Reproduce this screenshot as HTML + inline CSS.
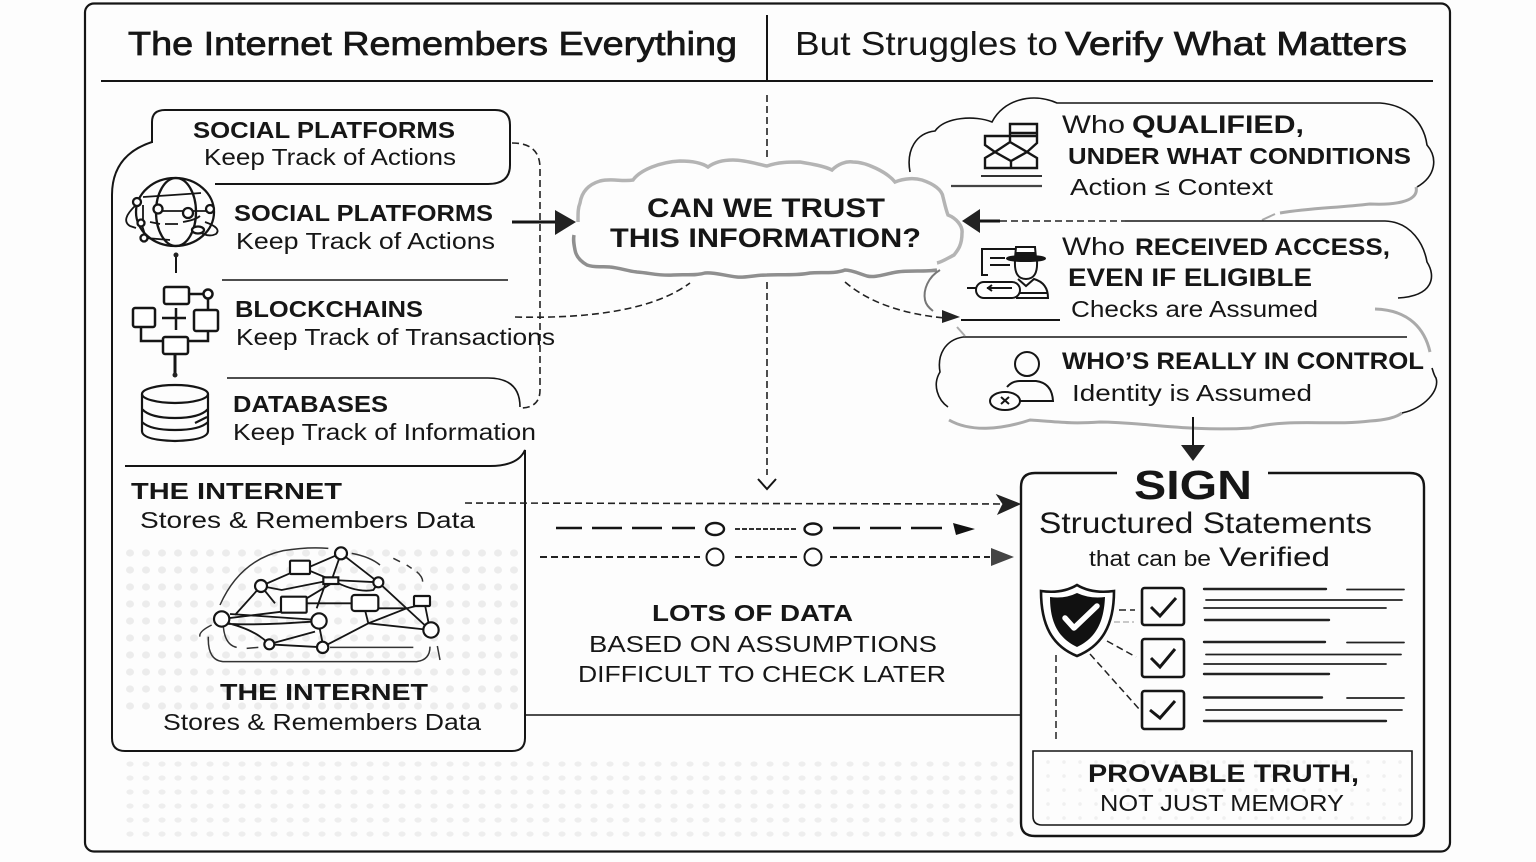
<!DOCTYPE html>
<html><head><meta charset="utf-8"><style>
html,body{margin:0;padding:0;background:#fdfdfd}
svg{display:block}
text{font-family:"Liberation Sans",sans-serif;fill:#161616;font-size:23px}
.b{font-weight:700}
.t{stroke:#161616;stroke-width:.75px}
.n{fill:#fff;stroke:#151515;stroke-width:2.2}
.l{fill:none;stroke:#151515;stroke-width:2}
.s{fill:none;stroke:#151515;stroke-width:1.6}
.d{fill:none;stroke:#222;stroke-width:1.6;stroke-dasharray:7 4}
.g{fill:none;stroke:#aaa;stroke-width:3}
</style></head><body>
<svg xmlns="http://www.w3.org/2000/svg" width="1536" height="862" viewBox="0 0 1536 862">
<defs>
<pattern id="p1" x="122" y="545" width="16" height="17" patternUnits="userSpaceOnUse"><ellipse cx="8" cy="8" rx="4" ry="3.6" fill="#ececec"/></pattern>
<pattern id="p2" x="122" y="757" width="16" height="14" patternUnits="userSpaceOnUse"><ellipse cx="8" cy="7" rx="3.6" ry="2.6" fill="#eeeeee"/></pattern>
<pattern id="p3" x="1040" y="755" width="16" height="14" patternUnits="userSpaceOnUse"><circle cx="8" cy="7" r="1.8" fill="#f0f0f0"/></pattern>
</defs>
<rect width="1536" height="862" fill="#fdfdfd"/>
<rect x="122" y="545" width="398" height="170" fill="url(#p1)"/>
<rect x="122" y="757" width="898" height="86" fill="url(#p2)"/>
<rect x="1040" y="755" width="365" height="66" fill="url(#p3)"/>

<!-- frame -->
<rect x="85" y="3.5" width="1365" height="848" rx="9" fill="none" stroke="#151515" stroke-width="2.2"/>
<path class="l" d="M101 81H1433M767 15V81"/>
<text x="128" y="55" class="t" textLength="609" lengthAdjust="spacingAndGlyphs" style="font-size:33px">The Internet Remembers Everything</text>
<text x="795" y="55" textLength="263" lengthAdjust="spacingAndGlyphs" style="font-size:33px">But Struggles to</text>
<text x="1065" y="55" class="t" textLength="342" lengthAdjust="spacingAndGlyphs" style="font-size:33px">Verify What Matters</text>

<!-- left container -->
<path class="l" d="M152 143V122Q152 110 165 110H495Q510 110 510 125V165Q510 184 488 184H215"/>
<path class="l" d="M152 142Q112 155 112 195V738Q112 751 125 751H512Q525 751 525 738V450Q518 466 490 466H125"/>
<path class="s" d="M525 715H1021"/>
<path class="s" d="M222 280H508"/>
<path class="s" d="M227 378H488Q520 378 520 407"/>
<path class="d" d="M512 143Q540 143 540 168V390Q540 408 520 408"/>
<path class="l" style="stroke-width:3" d="M512 222H556"/><path d="M555 210L576 222L555 235Z" fill="#222"/>
<path class="d" d="M515 317Q640 320 690 283"/>
<path class="d" d="M767 95V160M767 282V475"/>
<path class="l" d="M758 479L767 489L776 479"/>
<path class="d" d="M845 282Q880 312 945 318"/><path d="M942 310L960 317L942 323Z" fill="#222"/>

<text x="193" y="138" class="b" textLength="262" lengthAdjust="spacingAndGlyphs">SOCIAL PLATFORMS</text>
<text x="204" y="165" textLength="252" lengthAdjust="spacingAndGlyphs">Keep Track of Actions</text>
<text x="234" y="221" class="b" textLength="259" lengthAdjust="spacingAndGlyphs">SOCIAL PLATFORMS</text>
<text x="236" y="249" textLength="259" lengthAdjust="spacingAndGlyphs">Keep Track of Actions</text>
<text x="235" y="317" class="b" textLength="188" lengthAdjust="spacingAndGlyphs">BLOCKCHAINS</text>
<text x="236" y="345" textLength="319" lengthAdjust="spacingAndGlyphs">Keep Track of Transactions</text>
<text x="233" y="412" class="b" textLength="155" lengthAdjust="spacingAndGlyphs">DATABASES</text>
<text x="233" y="440" textLength="303" lengthAdjust="spacingAndGlyphs">Keep Track of Information</text>
<text x="131" y="499" class="b" textLength="211" lengthAdjust="spacingAndGlyphs">THE INTERNET</text>
<text x="140" y="528" textLength="335" lengthAdjust="spacingAndGlyphs">Stores &amp; Remembers Data</text>
<text x="220" y="700" class="b" textLength="208" lengthAdjust="spacingAndGlyphs">THE INTERNET</text>
<text x="163" y="730" textLength="318" lengthAdjust="spacingAndGlyphs">Stores &amp; Remembers Data</text>

<!-- globe -->
<g fill="none" stroke="#151515" stroke-width="2.3">
<ellipse cx="175" cy="212" rx="39" ry="34"/>
<ellipse cx="176" cy="212" rx="20" ry="34"/>
<path stroke-width="1.8" d="M143 197Q174 195 201 193M162 211H208M165 224H178M183 222Q195 220 200 216M150 222L160 224M136 205Q120 220 130 226L136 228M142 225L146 238L170 240M205 222Q222 228 216 234Q208 238 198 231M143 205V222"/>
<g fill="#fff"><circle cx="137" cy="202" r="4"/><circle cx="158" cy="209" r="4.5"/><circle cx="188" cy="213" r="5"/><circle cx="210" cy="209" r="4"/><circle cx="141" cy="223" r="3.5"/><ellipse cx="198" cy="230" rx="6" ry="3.5"/><circle cx="144" cy="238" r="3.5"/></g>
</g>
<path class="l" d="M176 256V273"/><circle cx="176" cy="255" r="2.5" fill="#222"/>

<!-- blockchain -->
<g fill="#fff" stroke="#151515" stroke-width="2.5">
<path fill="none" d="M141 327V341H163M188 341H208V331M208 310V299M189 294H204M162 318H186M176 308V330"/>
<rect x="164" y="287" width="25" height="17" rx="2"/><circle cx="208" cy="294" r="4.5"/>
<rect x="133" y="308" width="22" height="19" rx="2"/><rect x="194" y="310" width="24" height="21" rx="2"/><rect x="163" y="337" width="25" height="17" rx="2"/>
</g>
<path class="l" style="stroke-width:3" d="M175 354V374"/><circle cx="175" cy="375" r="2.5" fill="#222"/>

<!-- database -->
<g fill="none" stroke="#151515" stroke-width="2.2">
<ellipse cx="175" cy="394" rx="33" ry="9"/>
<path d="M142 394V431Q142 440 175 441Q208 440 208 431V394M142 409Q150 418 175 418Q200 418 208 409M142 422Q150 430 175 430Q200 430 208 422M195 423L207 417"/>
</g>

<!-- network, zoomed coordinates -->
<g transform="translate(200 540) scale(.33333)">
<g fill="none" stroke="#333" stroke-width="4.5">
<path d="M25 290Q22 365 75 365H650Q690 360 690 320M60 195Q120 60 250 32Q320 20 385 25M455 40Q510 50 540 75M580 55L600 65M620 75L635 85M650 95Q668 110 668 125M720 360L712 318M35 255Q-5 275 0 290M70 260Q75 315 110 322M140 325L175 322M390 322H640"/>
</g>
<g fill="none" stroke="#151515" stroke-width="5.5">
<path d="M423 40L330 80M423 40L395 120M423 40L535 127L690 270M300 80L395 120M183 138L270 100M183 138L245 150L395 120M183 138L225 190M183 138L105 225M395 120L535 127M395 120Q470 160 520 150L535 127M395 130L320 175M375 135L350 205M65 237L245 215M320 190L455 190M90 222L355 240M535 205L620 205L660 195M675 195L690 270M620 205L505 250M495 210L505 250L690 270M505 250L380 315M65 250Q150 258 335 245M65 245Q160 265 205 310M205 313L345 275M355 245L370 320M205 313L370 322"/>
</g>
<g fill="#fff" stroke="#151515" stroke-width="6.5">
<circle cx="423" cy="40" r="18"/><rect x="270" y="62" width="60" height="40" rx="3"/><rect x="370" y="112" width="45" height="20"/><circle cx="535" cy="127" r="15"/><circle cx="183" cy="138" r="18"/>
<rect x="243" y="170" width="77" height="48" rx="3"/><rect x="455" y="165" width="80" height="48" rx="9"/><rect x="642" y="168" width="48" height="30" rx="3"/>
<circle cx="65" cy="237" r="23"/><circle cx="357" cy="243" r="23"/><circle cx="693" cy="270" r="23"/><circle cx="208" cy="313" r="15"/><circle cx="368" cy="322" r="17"/>
</g>
</g>

<!-- center cloud -->
<path fill="#fdfdfd" stroke="#b4b4b4" stroke-width="3.5" d="M578 222C578 212 578 208 580 203C582 190 590 184 600 181C612 178 622 182 633 180C640 170 660 162 680 161C692 161 702 163 708 167C716 161 725 160 733 160C745 160 757 164 767 166C778 162 790 162 800 162C812 164 824 166 832 170C838 164 846 161 853 162C866 162 887 172 895 182C905 178 915 178 922 180C934 184 942 190 943 197C945 205 946 210 948 215C956 218 963 226 962 233C962 245 958 250 954 255C948 258 942 262 937 263"/>
<path fill="none" stroke="#8f8f8f" stroke-width="3.5" d="M937 270C925 272 910 270 897 272C885 274 875 278 867 276C860 274 852 270 845 270C835 274 820 272 810 273C795 276 780 274 767 275C755 275 745 278 737 277C725 276 715 272 705 273C695 276 685 274 673 275C660 276 650 273 637 272C628 271 620 268 610 267C602 266 595 268 587 265C580 261 576 256 575 250C574 245 573 240 574 235"/>
<text x="647" y="217" class="b" textLength="238" lengthAdjust="spacingAndGlyphs" style="font-size:27px">CAN WE TRUST</text>
<text x="610" y="247" class="b" textLength="311" lengthAdjust="spacingAndGlyphs" style="font-size:27px">THIS INFORMATION?</text>

<!-- right clouds -->
<path class="s" d="M910 172C906 150 916 133 935 131C945 117 975 115 992 122C1003 100 1032 92 1057 103H1380C1408 105 1424 123 1427 145C1438 158 1436 176 1417 187"/>
<path class="g" d="M1416 187C1420 203 1390 205 1370 204C1335 208 1310 208 1280 213"/>
<path class="g" style="stroke-width:2" d="M1262 220L1275 214"/>
<path class="s" d="M1125 221H1385C1412 222 1424 245 1427 262C1436 276 1434 296 1398 298"/>
<path fill="none" stroke="#777" stroke-width="2" d="M940 270C928 277 923 290 925 300C926 305 929 308 933 311"/>
<path class="l" d="M961 320H1060"/>
<path class="s" d="M963 337H1407"/>
<path class="s" d="M963 337C945 340 937 355 940 372C932 385 938 400 948 407"/>
<path class="g" d="M949 420C970 432 1000 430 1030 420C1060 422 1070 424 1100 422C1140 422 1190 432 1251 428C1290 418 1330 426 1370 421C1385 420 1395 418 1402 413"/>
<path class="s" d="M1402 413C1425 408 1440 390 1436 378C1434 375 1434 374 1432 368"/>
<path class="g" d="M1430 352C1425 330 1410 310 1375 309"/>
<path class="g" style="stroke-width:2" d="M957 327L965 336"/>
<path class="d" d="M1000 221H1125"/>
<path class="l" style="stroke-width:3" d="M976 221H1000"/><path d="M962 221L980 209V233Z" fill="#222"/>
<path class="l" d="M1193 417V446"/><path d="M1181 445H1205L1193 461Z" fill="#222"/>

<text x="1062" y="133" textLength="63" lengthAdjust="spacingAndGlyphs" style="font-size:25px">Who</text>
<text x="1132" y="133" class="b" textLength="172" lengthAdjust="spacingAndGlyphs" style="font-size:25px">QUALIFIED,</text>
<text x="1068" y="164" class="b" textLength="343" lengthAdjust="spacingAndGlyphs">UNDER WHAT CONDITIONS</text>
<text x="1070" y="195" textLength="203" lengthAdjust="spacingAndGlyphs">Action ≤ Context</text>
<text x="1062" y="255" textLength="63" lengthAdjust="spacingAndGlyphs" style="font-size:25px">Who</text>
<text x="1135" y="255" class="b" textLength="255" lengthAdjust="spacingAndGlyphs" style="font-size:24px">RECEIVED ACCESS,</text>
<text x="1068" y="286" class="b" textLength="244" lengthAdjust="spacingAndGlyphs" style="font-size:25px">EVEN IF ELIGIBLE</text>
<text x="1071" y="317" textLength="247" lengthAdjust="spacingAndGlyphs">Checks are Assumed</text>
<text x="1062" y="369" class="b" textLength="362" lengthAdjust="spacingAndGlyphs" style="font-size:24px">WHO’S REALLY IN CONTROL</text>
<text x="1072" y="401" textLength="240" lengthAdjust="spacingAndGlyphs">Identity is Assumed</text>

<!-- hourglass -->
<g fill="none" stroke="#151515" stroke-width="2.4">
<path d="M1010 142V124H1037V143L1027 152L1037 158V168H985V158L995 152L985 145V136H1037M1010 133H1037M995 152L1010 142L1027 152L1011 161ZM1011 161V168"/>
<path stroke-width="1.8" d="M981 176H1042"/><path d="M951 186H1042" stroke-width="2.2" stroke="#444"/>
</g>
<!-- agent -->
<g fill="none" stroke="#151515" stroke-width="2">
<path d="M1017 249H982V275H988M990 258H1005M990 265H1010"/>
<path d="M1016 247H1035L1036 258H1015Z" fill="#fff"/><path d="M1016 253H1035V258H1016Z" fill="#151515"/>
<ellipse cx="1026" cy="258.500" rx="19" ry="2.500" fill="#151515"/>
<path d="M1015 261Q1014 279 1026 279Q1038 279 1037 261"/>
<path d="M1018 279L1026 286L1034 279Q1048 283 1048 298H1016M1018 293H1048"/>
<rect x="976" y="282" width="44" height="16" rx="8" fill="#fff"/>
<path d="M967 288H976M987 288H1012M992 285L988 288L992 291"/>
</g>
<!-- person -->
<g fill="none" stroke="#151515" stroke-width="2">
<circle cx="1027" cy="364" r="12"/>
<path d="M1007 387Q1012 381 1020 381H1036Q1052 383 1053 401H1019"/>
<ellipse cx="1005" cy="401" rx="15" ry="9" fill="#fff"/>
<path d="M1001 397L1009 404M1009 397L1001 404"/>
</g>

<!-- connectors -->
<path class="d" d="M465 503L1000 504"/>
<path d="M997 495L1020 504L998 514L1003 504Z" fill="#222" stroke="#222"/>
<path class="l" style="stroke-width:2.4" d="M556 528H582M592 528H622M632 528H662M672 528H695"/>
<path class="l" style="stroke-width:1.8;stroke-dasharray:5 2" d="M735 529H797"/>
<path class="l" style="stroke-width:2.4" d="M833 528H860M870 528H901M911 528H942"/>
<path d="M953 523L975 529L956 535Z" fill="#111"/>
<ellipse cx="715" cy="529" rx="9" ry="6" fill="#fff" stroke="#151515" stroke-width="2.4"/>
<ellipse cx="813" cy="529" rx="8.500" ry="5.500" fill="#fff" stroke="#151515" stroke-width="2.4"/>
<path class="d" style="stroke-width:2" d="M540 557H700M735 557H797M830 557H990"/>
<circle cx="715" cy="557" r="8.500" fill="#fff" stroke="#151515" stroke-width="2"/>
<circle cx="813" cy="557" r="8.500" fill="#fff" stroke="#151515" stroke-width="2"/>
<path d="M991 548L1014 557L991 566Z" fill="#444"/>

<text x="652" y="621" class="b" textLength="201" lengthAdjust="spacingAndGlyphs">LOTS OF DATA</text>
<text x="589" y="652" textLength="348" lengthAdjust="spacingAndGlyphs">BASED ON ASSUMPTIONS</text>
<text x="578" y="682" textLength="368" lengthAdjust="spacingAndGlyphs">DIFFICULT TO CHECK LATER</text>

<!-- sign box -->
<path class="l" style="stroke-width:2.4" d="M1117 473H1035Q1021 473 1021 487V823Q1021 836 1035 836H1411Q1424 836 1424 823V487Q1424 473 1410 473H1268"/>
<text x="1134" y="499" class="b" textLength="118" lengthAdjust="spacingAndGlyphs" style="font-size:41px">SIGN</text>
<text x="1039" y="533" textLength="333" lengthAdjust="spacingAndGlyphs" style="font-size:30px">Structured Statements</text>
<text x="1089" y="566" textLength="122" lengthAdjust="spacingAndGlyphs" style="font-size:22px">that can be</text>
<text x="1219" y="566" textLength="111" lengthAdjust="spacingAndGlyphs" style="font-size:27px">Verified</text>

<path d="M1077 585Q1092 594 1114 591C1114 625 1102 646 1077 656C1052 646 1041 625 1041 591Q1062 594 1077 585Z" fill="#fff" stroke="#151515" stroke-width="2.6"/>
<path d="M1077 593Q1090 599 1105 597C1104 622 1096 638 1077 647C1058 638 1050 622 1050 597Q1065 599 1077 593Z" fill="#111"/>
<path d="M1065 618L1074 628L1097 606" fill="none" stroke="#fff" stroke-width="5.500" stroke-linecap="round" stroke-linejoin="round"/>
<g fill="none" stroke="#151515" stroke-width="2.6">
<rect x="1142" y="588" width="42" height="37" rx="2.500"/><rect x="1142" y="639" width="42" height="38" rx="2.500"/><rect x="1142" y="691" width="42" height="38" rx="2.500"/>
<path stroke-width="3" d="M1151 607L1160 616L1176 598M1151 658L1160 667L1175 649M1150 710L1160 718L1175 701"/>
</g>
<path class="d" style="stroke-width:1.5" d="M1119 610H1135M1107 641L1136 657M1090 654L1140 710M1056 655V741"/>
<path d="M1114 622H1134" stroke="#aaa" stroke-width="1.2" stroke-dasharray="6 3"/>
<g stroke="#222" stroke-linecap="round">
<path stroke-width="2.4" d="M1204 589H1326M1204 642H1325M1204 697.500H1322M1205 620H1329M1204 674H1329M1204 721H1386"/>
<path stroke-width="1.8" d="M1347 589.500H1404M1206 600H1402M1204 608H1386M1347 642.500H1404M1206 654.500H1401M1204 664H1386M1347 698H1404M1206 710H1402"/>
</g>

<path class="s" d="M1033 751H1412V816Q1412 825 1403 825H1042Q1033 825 1033 816Z"/>
<text x="1088" y="782" class="b" textLength="271" lengthAdjust="spacingAndGlyphs" style="font-size:25px">PROVABLE TRUTH,</text>
<text x="1100" y="811" textLength="244" lengthAdjust="spacingAndGlyphs">NOT JUST MEMORY</text>
</svg>
</body></html>
